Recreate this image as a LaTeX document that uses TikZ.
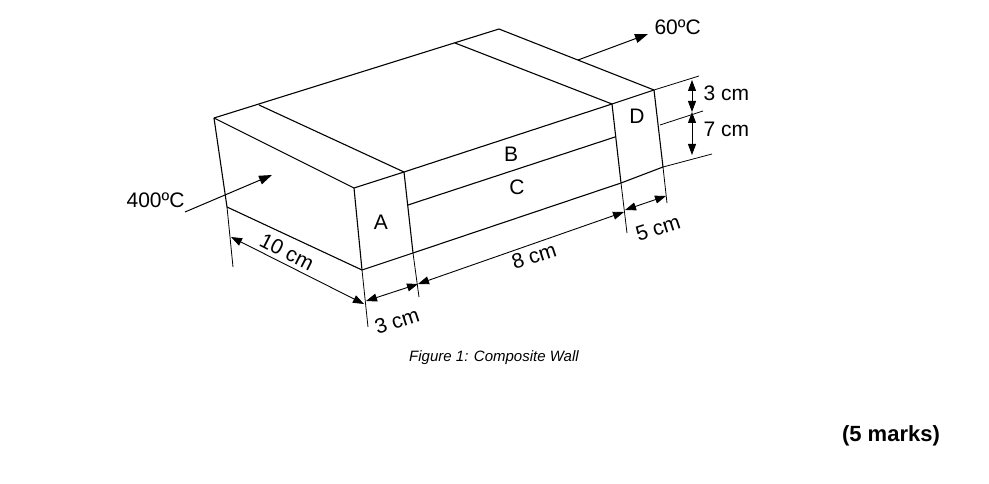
\documentclass[tikz,border=0pt]{standalone}
\usepackage{fontspec}
\setmainfont{Liberation Sans}
\usetikzlibrary{arrows.meta}
\begin{document}
\begin{tikzpicture}[x=1pt,y=-1pt,line width=1.1pt,
  dim/.style={line width=0.9pt,{Triangle[length=11pt,width=8pt]}-{Triangle[length=11pt,width=8pt]}},
  heat/.style={line width=1pt,-{Triangle[length=13pt,width=9pt]}},
  ext/.style={line width=0.8pt},
  lab/.style={font=\fontsize{21}{23}\selectfont,inner sep=0pt}]
\useasboundingbox (0,0) rectangle (989,484);
% vertices
\coordinate (P1) at (214,118);
\coordinate (P2) at (354,188);
\coordinate (P3) at (404,172);
\coordinate (P4) at (612,104);
\coordinate (P5) at (654,90);
\coordinate (BK) at (499,29);
\coordinate (SA) at (259,105);
\coordinate (SD) at (455,43);
\coordinate (Q1) at (227,207);
\coordinate (Q2) at (362,270);
\coordinate (Q3) at (413,253);
\coordinate (Q4) at (621,183);
\coordinate (Q5) at (663,167);
\coordinate (BC1) at (408,205);
\coordinate (BC2) at (615,137);
\draw[line join=round] (P1)--(BK)--(P5)--(Q5)--(Q4)--(Q3)--(Q2)--(Q1)--cycle;
\draw (P1)--(P2)--(P3)--(P4)--(P5);
\draw (P2)--(Q2) (P3)--(Q3) (P4)--(Q4);
\draw (SA)--(P3) (SD)--(P4) (BC1)--(BC2);
% labels
\node[lab] (A) at (381,222) {A};
\node[lab] (B) at (511,154) {B};
\node[lab] (C) at (517,187) {C};
\node[lab] (D) at (637,116) {D};
% heat
\coordinate (h1s) at (185,212); \coordinate (h1e) at (272,175);
\draw[heat] (h1s)--(h1e);
\node[lab,anchor=east] (t400) at (185,200) {400ºC};
\coordinate (h2s) at (578,60); \coordinate (h2e) at (648,34);
\draw[heat] (h2s)--(h2e);
\node[lab,anchor=west] (t60) at (654,27) {60ºC};
% 10 cm
\coordinate (e1) at (233,267); \draw[ext] (Q1)--(e1);
\coordinate (e2) at (368,327); \draw[ext] (Q2)--(e2);
\coordinate (e3) at (419,297); \draw[ext] (Q3)--(e3);
\coordinate (d10a) at (231,237); \coordinate (d10b) at (364,304);
\draw[dim] (d10a)--(d10b);
\node[lab,rotate=-27] (t10) at (287,252) {10 cm};
\coordinate (d3a) at (366,301); \coordinate (d3b) at (418,284);
\draw[dim] (d3a)--(d3b);
\node[lab,rotate=18] (t3) at (397,321) {3 cm};
\coordinate (d8b) at (624,212);
\draw[dim] (d3b)--(d8b);
\node[lab,rotate=18] (t8) at (534,256) {8 cm};
\coordinate (e4) at (627,233); \draw[ext] (Q4)--(e4);
\coordinate (e5) at (667,203); \draw[ext] (Q5)--(e5);
\coordinate (d5a) at (625,210); \coordinate (d5b) at (666,196);
\draw[dim] (d5a)--(d5b);
\node[lab,rotate=18] (t5) at (658,228) {5 cm};
% right dims
\coordinate (r1) at (699,76); \draw[ext] (P5)--(r1);
\coordinate (m0) at (660,125); \coordinate (r2) at (703,111); \draw[ext] (m0)--(r2);
\coordinate (b0) at (663,167); \coordinate (r3) at (712,154); \draw[ext] (b0)--(r3);
\coordinate (v1) at (692,80); \coordinate (v2) at (692,112); \coordinate (v3) at (692,155);
\draw[dim] (v1)--(v2); \draw[dim] (v2)--(v3);
\node[lab,anchor=west] (t3b) at (703,93) {3 cm};
\node[lab,anchor=west] (t7) at (703,129) {7 cm};
% caption
\node[font=\fontsize{15}{17}\selectfont\itshape] (cap) at (494,358) {Figure 1: Composite Wall};
\node[font=\fontsize{22}{24}\selectfont\bfseries] (marks) at (891,436) {(5 marks)};
\end{tikzpicture}
\end{document}
